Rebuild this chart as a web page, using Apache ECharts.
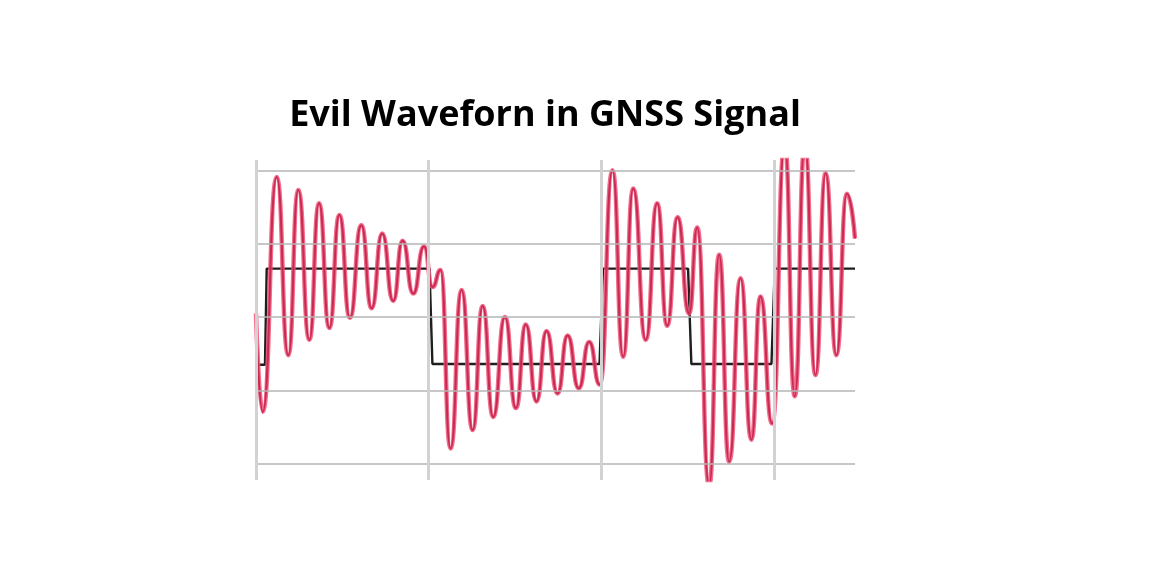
<!DOCTYPE html>
<html>
<head>
<meta charset="utf-8">
<script src="https://cdn.jsdelivr.net/npm/echarts@6/dist/echarts.min.js"></script>
<style>html,body{margin:0;padding:0;background:#fff;}#main{width:1158px;height:580px;}</style>
</head>
<body>
<div id="main"></div>
<script>
const titleText = 'Evil Waveforn in GNSS Signal';
const xGridLines = [0, 1, 2, 3];
const yGridLines = [-2, -1, 0, 1, 2];
const waveX = [0, 0.039, 0.12, 0.187, 0.245, 0.309, 0.365, 0.425, 0.483, 0.544, 0.61, 0.67, 0.731, 0.795, 0.849, 0.911, 0.973, 1.023, 1.069, 1.127, 1.191, 1.255, 1.313, 1.374, 1.442, 1.506, 1.563, 1.625, 1.683, 1.747, 1.805, 1.870, 1.930, 1.992, 2.065, 2.127, 2.185, 2.258, 2.324, 2.382, 2.442, 2.509, 2.556, 2.625, 2.683, 2.741, 2.807, 2.870, 2.922, 2.990, 3.063, 3.121, 3.179, 3.241, 3.300, 3.362, 3.423, 3.47];
const waveY = [0.05, -1.29, 1.91, -0.52, 1.73, -0.31, 1.55, -0.15, 1.39, -0.01, 1.25, 0.12, 1.14, 0.22, 1.04, 0.32, 0.96, 0.41, 0.64, -1.79, 0.37, -1.54, 0.15, -1.36, 0.0, -1.24, -0.10, -1.15, -0.19, -1.04, -0.25, -0.97, -0.34, -0.92, 2.0, -0.54, 1.75, -0.31, 1.55, -0.12, 1.36, 0.05, 1.22, -2.3, 0.85, -1.97, 0.53, -1.67, 0.28, -1.45, 2.35, -1.08, 2.35, -0.79, 1.96, -0.52, 1.68, 1.07];
const squareX = [0, 0.052, 0.062, 1.005, 1.022, 1.99, 2.01, 2.503, 2.522, 2.986, 3.005, 3.47];
const squareY = [-0.65, -0.65, 0.66, 0.66, -0.64, -0.64, 0.66, 0.66, -0.64, -0.64, 0.66, 0.66];

const chart = echarts.init(document.getElementById('main'), null, {renderer: 'canvas'});
const zip = (xs, ys) => xs.map((x, i) => [x, ys[i]]);
const waveData = zip(waveX, waveY);
chart.setOption({
  animation: false,
  backgroundColor: '#ffffff',
  title: {
    text: titleText,
    left: 540,
    top: 93,
    textAlign: 'center',
    textStyle: {fontFamily: 'Open Sans', fontWeight: 'bold', fontSize: 36, color: '#000'}
  },
  grid: {left: 256, top: 160, width: 599, height: 320, containLabel: false},
  xAxis: {type: 'value', min: 0, max: 3.47, show: false, splitLine: {show: false}},
  yAxis: {type: 'value', min: -2.22, max: 2.14, show: false, splitLine: {show: false}},
  series: [
    {
      type: 'line', data: [], z: 1, silent: true,
      markLine: {
        silent: true, symbol: ['none', 'none'], label: {show: false},
        data: yGridLines.map(v => ({yAxis: v, lineStyle: {color: '#b4b4b4', width: 1.5, type: 'solid'}}))
          .concat(xGridLines.map(v => ({xAxis: v, lineStyle: {color: '#d2d2d2', width: 3, type: 'solid'}})))
      }
    },
    {
      type: 'line', data: zip(squareX, squareY), z: 2, symbol: 'none', silent: true,
      lineStyle: {color: '#1e1e1e', width: 2.4}
    },
    {
      type: 'line', data: waveData, z: 3, symbol: 'none', silent: true,
      smooth: 0.55, smoothMonotone: 'x', clip: true,
      lineStyle: {color: '#ef5279', width: 4.5, opacity: 0.85}
    },
    {
      type: 'line', data: waveData, z: 4, symbol: 'none', silent: true,
      smooth: 0.55, smoothMonotone: 'x', clip: true,
      lineStyle: {color: '#c82a50', width: 2}
    }
  ]
});
</script>
</body>
</html>
